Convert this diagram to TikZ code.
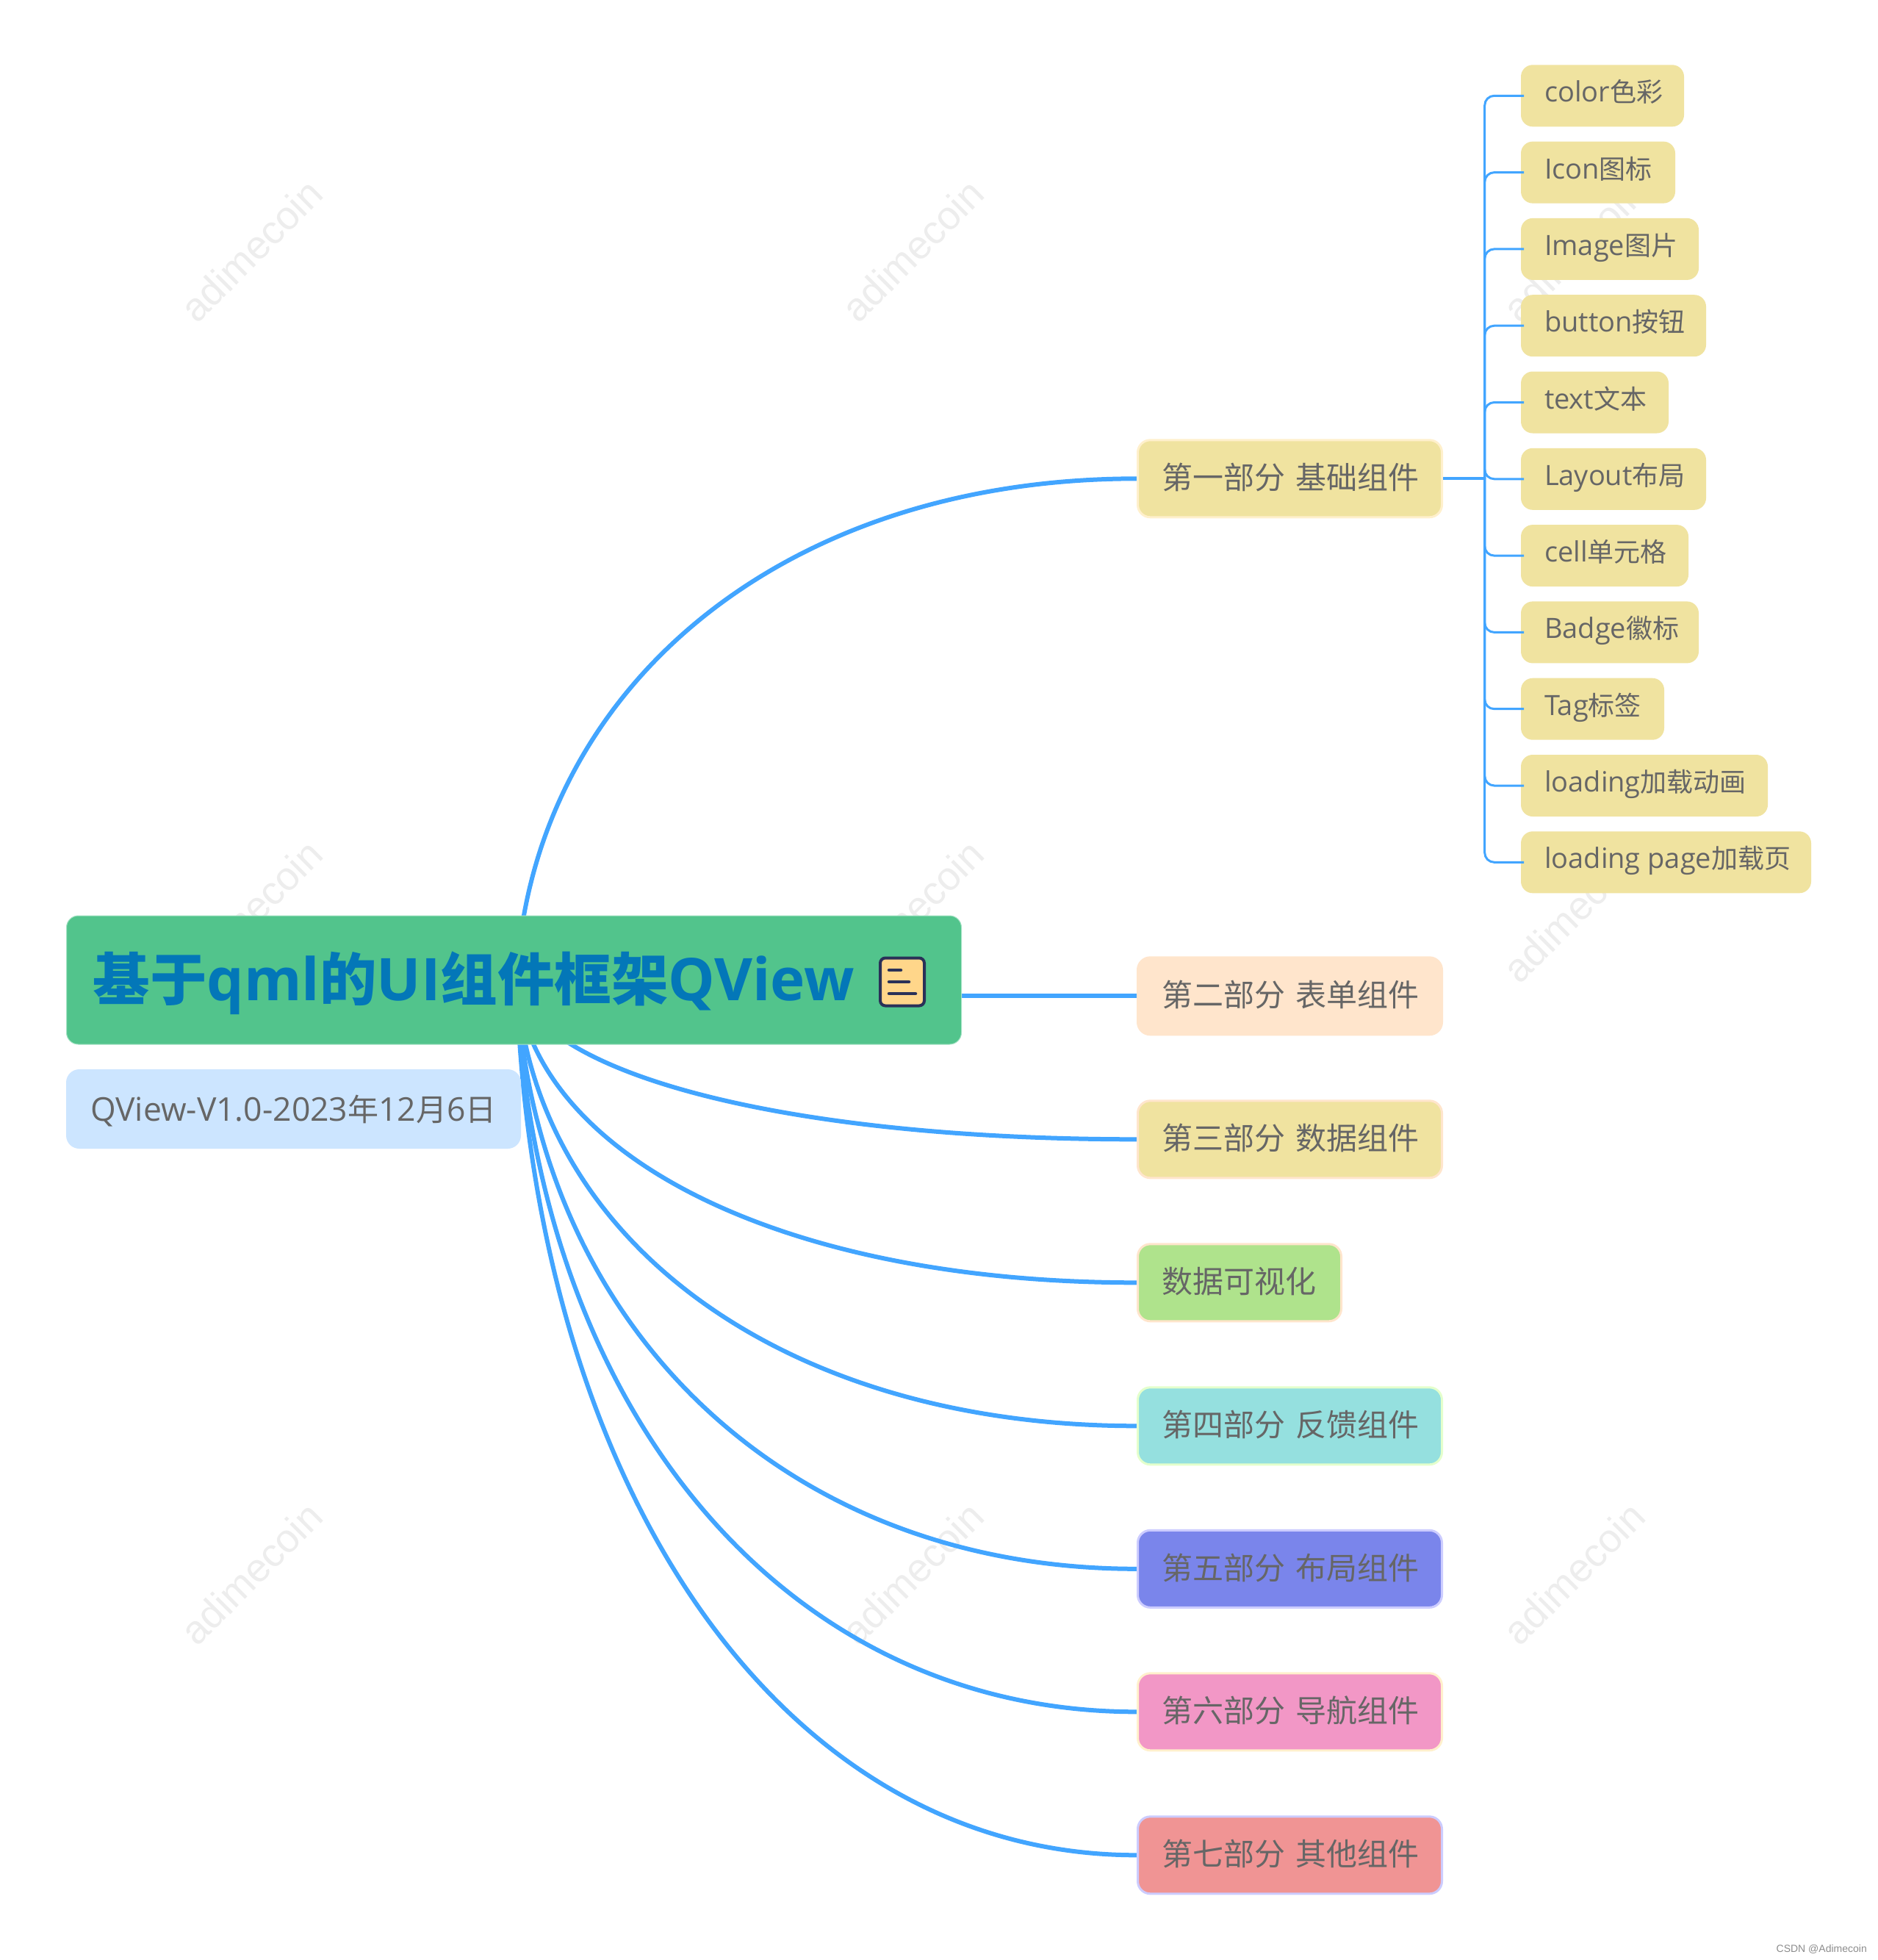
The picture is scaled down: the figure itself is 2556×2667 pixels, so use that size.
\documentclass[tikz,border=0pt]{standalone}
\usepackage{fontspec}
\setmainfont{Open Sans}
\newfontfamily\cjk{Noto Sans CJK SC}
\newfontfamily\arialish{Liberation Sans}
\usetikzlibrary{calc}
\pgfdeclarelayer{under}
\pgfsetlayers{under,main}
\definecolor{linkblue}{HTML}{42A5FF}
\definecolor{txt}{HTML}{666666}
\definecolor{sand}{HTML}{F0E3A0}
\definecolor{HTMLgreen}{HTML}{52C48C}
\definecolor{HTMLgreenb}{HTML}{A6E3C5}
\definecolor{HTMLtitle}{HTML}{0377B8}
\definecolor{HTMLsub}{HTML}{CCE5FF}
\definecolor{HTMLnavy}{HTML}{2A3158}
\definecolor{HTMLicon}{HTML}{FFD68A}
\definecolor{HTMLbA}{HTML}{FFF0CC}
\definecolor{HTMLfB}{HTML}{FFE5CC}
\definecolor{HTMLfC}{HTML}{AFE38C}
\definecolor{HTMLfD}{HTML}{95E0DF}
\definecolor{HTMLbD}{HTML}{E4FFCC}
\definecolor{HTMLfE}{HTML}{7A85EB}
\definecolor{HTMLbE}{HTML}{CCCCFF}
\definecolor{HTMLfF}{HTML}{F297C6}
\definecolor{HTMLfG}{HTML}{F09494}
\newcommand{\fixw}[2]{\hbox to #1{#2\hss}}
\newcommand{\partw}[2]{\hbox to #1{\spaceskip=14pt\relax #2\hss}}
\newcommand{\tcj}[1]{{\fontsize{77.5}{84}\selectfont\cjk #1}}
\newcommand{\lcj}[1]{{\fontsize{36}{40}\selectfont\cjk #1}}
\newcommand{\scj}[1]{{\fontsize{42}{48}\selectfont\cjk #1}}
\newcommand{\hubcurve}[1]{\draw[mainlink] (hub) .. controls ($(hub)!.57!(hub |- #1.west)+(20,0)$) and ($(#1.west)+(-491,0)$) .. (#1.west);}
\tikzset{
  mainlink/.style={draw=linkblue,line width=6pt},
  leaflink/.style={draw=linkblue,line width=3pt,rounded corners=13pt},
  leafbox/.style={anchor=west,fill=sand,rounded corners=16pt,minimum height=84pt,yshift=.7pt,inner xsep=32pt,inner ysep=0pt,outer sep=0pt,text=txt,
    font=\fontsize{38}{40}\selectfont,text height=32pt,text depth=15pt},
  partbox/.style={anchor=west,rounded corners=17pt,minimum height=105pt,yshift=.7pt,inner xsep=32.5pt,inner ysep=0pt,line width=3pt,text=txt,
    font=\fontsize{42}{48}\selectfont,text height=37pt,text depth=8pt},
  wmark/.style={rotate=45,text=black!7,font=\arialish\fontsize{54}{60}\selectfont},
}
\begin{document}
\begin{tikzpicture}[x=1pt,y=-1pt]
\useasboundingbox (0,0) rectangle (2556,2667);
\coordinate (hub) at (703,1333);
\coordinate (trunk) at (2020.7,652);

% central topic
\node[fill=HTMLgreen,draw=HTMLgreenb,line width=1pt,rounded corners=16pt,anchor=west,minimum height=175pt,inner xsep=36pt,inner ysep=0pt,text=HTMLtitle,font=\bfseries\fontsize{80}{84}\selectfont,text height=68pt,text depth=13pt] (main) at (90,1333.5)
  {\fixw{1146pt}{\tcj{基于}qml\tcj{的}UI\tcj{组件框架}QView}};
\node[anchor=west,fill=HTMLsub,rounded corners=18pt,minimum height=108pt,inner xsep=33pt,inner ysep=0pt,outer sep=0pt,text=txt,font=\fontsize{44.5}{48}\selectfont,text height=37pt,text depth=5pt] (sub) at (90,1509)
  {\fixw{553pt}{QView-V1.0-2023\scj{年}12\scj{月}6\scj{日}}};
\node[draw=HTMLnavy,fill=HTMLicon,line width=4pt,rounded corners=7pt,minimum width=60pt,minimum height=65pt,inner sep=0pt] (icon) at (1228,1336) {};
\draw[HTMLnavy,line width=4.5pt,line cap=round] (1210,1320) -- (1226,1320);
\draw[HTMLnavy,line width=4.5pt,line cap=round] (1210,1336) -- (1237,1336);
\draw[HTMLnavy,line width=4.5pt,line cap=round] (1210,1352) -- (1246,1352);

% parts
\node[partbox,fill=sand,draw=HTMLbA] (p1) at (1547,652) {\partw{349pt}{{\cjk 第一部分} {\cjk 基础组件}}};
\node[partbox,fill=HTMLfB,draw=HTMLfB] (p2) at (1547,1356) {\partw{349pt}{{\cjk 第二部分} {\cjk 表单组件}}};
\node[partbox,fill=sand,draw=HTMLfB] (p3) at (1547,1551) {\partw{349pt}{{\cjk 第三部分} {\cjk 数据组件}}};
\node[partbox,fill=HTMLfC,draw=HTMLfB] (p4) at (1547,1746) {\fixw{212pt}{\cjk 数据可视化}};
\node[partbox,fill=HTMLfD,draw=HTMLbD] (p5) at (1547,1941) {\partw{349pt}{{\cjk 第四部分} {\cjk 反馈组件}}};
\node[partbox,fill=HTMLfE,draw=HTMLbE] (p6) at (1547,2135.5) {\partw{349pt}{{\cjk 第五部分} {\cjk 布局组件}}};
\node[partbox,fill=HTMLfF,draw=HTMLbA] (p7) at (1547,2330) {\partw{349pt}{{\cjk 第六部分} {\cjk 导航组件}}};
\node[partbox,fill=HTMLfG,draw=HTMLbE] (p8) at (1547,2525) {\partw{349pt}{{\cjk 第七部分} {\cjk 其他组件}}};

% leaves
\node[leafbox] (l1) at (2070,131) {\fixw{158pt}{color\lcj{色彩}}};
\node[leafbox] (l2) at (2070,235.3) {\fixw{146pt}{Icon\lcj{图标}}};
\node[leafbox] (l3) at (2070,339.6) {\fixw{178pt}{Image\lcj{图片}}};
\node[leafbox] (l4) at (2070,443.9) {\fixw{188pt}{button\lcj{按钮}}};
\node[leafbox] (l5) at (2070,548.2) {\fixw{137pt}{text\lcj{文本}}};
\node[leafbox] (l6) at (2070,652.5) {\fixw{188pt}{Layout\lcj{布局}}};
\node[leafbox] (l7) at (2070,756.8) {\fixw{164pt}{cell\lcj{单元格}}};
\node[leafbox] (l8) at (2070,861.1) {\fixw{178pt}{Badge\lcj{徽标}}};
\node[leafbox] (l9) at (2070,965.4) {\fixw{131pt}{Tag\lcj{标签}}};
\node[leafbox] (l10) at (2070,1069.7) {\fixw{272pt}{loading\lcj{加载动画}}};
\node[leafbox] (l11) at (2070,1174) {\fixw{331pt}{loading page\lcj{加载页}}};

% watermarks and main connectors, below the boxes
\begin{pgfonlayer}{under}
\fill[white] (0,0) rectangle (2556,2667);
\node[wmark] (w1) at (342,341) {adimecoin};
\node[wmark] (w2) at (1242,341) {adimecoin};
\node[wmark] (w3) at (2142,341) {adimecoin};
\node[wmark] (w4) at (342,1240) {adimecoin};
\node[wmark] (w5) at (1242,1240) {adimecoin};
\node[wmark] (w6) at (2142,1240) {adimecoin};
\node[wmark] (w7) at (342,2141) {adimecoin};
\node[wmark] (w8) at (1242,2141) {adimecoin};
\node[wmark] (w9) at (2142,2141) {adimecoin};
\hubcurve{p1}
\draw[mainlink] (main.east |- p2.west) -- (p2.west);
\hubcurve{p3}
\hubcurve{p4}
\hubcurve{p5}
\hubcurve{p6}
\hubcurve{p7}
\hubcurve{p8}
\end{pgfonlayer}

% tree connectors
\draw[draw=linkblue,line width=4pt] (p1.east) -- (p1.east -| trunk);
\foreach \n in {1,...,11}{
  \draw[leaflink] (l6.west -| trunk) |- ($(l\n.west)+(4,0)$);
}

\node[anchor=east,text=black!45,font=\arialish\fontsize{14}{16}\selectfont,inner sep=0pt] (csdn) at (2541,2652) {CSDN @Adimecoin};
\end{tikzpicture}
\end{document}
